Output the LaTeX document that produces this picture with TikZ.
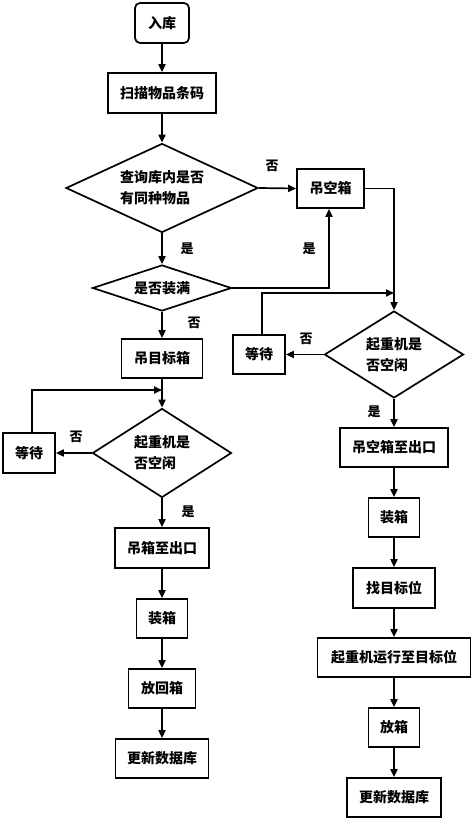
\documentclass[tikz,border=0pt]{standalone}
\usepackage{fontspec}
\newfontfamily\cjk{Noto Sans CJK SC}
\usetikzlibrary{shapes.geometric,arrows.meta}
\begin{document}
\begin{tikzpicture}[x=1pt,y=-1pt,
  txt/.style={font=\cjk\bfseries\fontsize{14}{21}\selectfont},
  box/.style={txt,draw,line width=1.7pt,inner sep=0pt,minimum height=39pt},
  dia/.style={txt,draw,diamond,line width=1.7pt,inner sep=0pt,align=left},
  lbl/.style={font=\cjk\bfseries\fontsize{13}{15}\selectfont,inner sep=0pt},
  ln/.style={line width=1.7pt},
  arr/.style={line width=1.7pt,-{Triangle[length=8pt,width=7pt]}}]
\useasboundingbox (0,0) rectangle (474,821);
% left column
\node[box,rounded corners=5pt,minimum width=54pt,minimum height=40pt] (start) at (162,23) {入库};
\node[box,minimum width=108pt,minimum height=40pt] (scan) at (162,93) {扫描物品条码};
\node[dia,minimum width=192pt,minimum height=89pt,aspect=2.16] (d1) at (162,188) {查询库内是否\\有同种物品};
\node[box,minimum width=67pt] (empty) at (330.5,188.5) {吊空箱};
\node[dia,minimum width=139pt,minimum height=46pt,aspect=3.02] (d2) at (162,288) {是否装满};
\node[box,minimum width=81pt] (target) at (162,358.5) {吊目标箱};
\node[dia,minimum width=139pt,minimum height=89pt,aspect=1.56] (dL) at (162,453) {起重机是\\否空闲};
\node[box,minimum width=52pt,minimum height=40pt] (waitL) at (29,453) {等待};
\node[box,minimum width=94pt,minimum height=40pt] (outL) at (162,548) {吊箱至出口};
\node[box,minimum width=51pt] (packL) at (162,618.5) {装箱};
\node[box,minimum width=67pt] (back) at (162,688.5) {放回箱};
\node[box,minimum width=93pt] (dbL) at (162,758.5) {更新数据库};
% right column
\node[dia,minimum width=139pt,minimum height=87pt,aspect=1.6] (dR) at (394,354.5) {起重机是\\否空闲};
\node[box,minimum width=52pt] (waitR) at (259,354.5) {等待};
\node[box,minimum width=108pt] (outR) at (394,447.5) {吊空箱至出口};
\node[box,minimum width=51pt] (packR) at (394,517.5) {装箱};
\node[box,minimum width=82pt,minimum height=40pt] (find) at (394,588) {找目标位};
\node[box,minimum width=153pt] (run) at (394,657.5) {起重机运行至目标位};
\node[box,minimum width=51pt] (put) at (394,727.5) {放箱};
\node[box,minimum width=94pt] (dbR) at (394,797.5) {更新数据库};
% labels
\node[lbl] (l1) at (272,166) {否};
\node[lbl] (l2) at (187,249) {是};
\node[lbl] (l3) at (309,249) {是};
\node[lbl] (l4) at (194,323) {否};
\node[lbl] (l5) at (306,339) {否};
\node[lbl] (l6) at (374,412) {是};
\node[lbl] (l7) at (76,437) {否};
\node[lbl] (l8) at (188,512) {是};
% joins
\coordinate (jL) at (162,390);
\coordinate (jR) at (394,293);
\coordinate (cE) at (394,188.5);
\coordinate (c2) at (329,288);
% connectors
\draw[arr] (start) -- (scan);
\draw[arr] (scan) -- (d1);
\draw[arr] (d1.east) -- (empty.west);
\draw[arr] (d1.south) -- (d2.north);
\draw[arr] (d2.east) -- (c2) -- (c2 |- empty.south);
\draw[arr] (empty.east) -- (cE) -- (dR.north);
\draw[arr] (d2.south) -- (target.north);
\draw[arr] (target.south) -- (dL.north);
\draw[arr] (dL.west) -- (waitL.east);
\draw[arr] ([xshift=3pt]waitL.north) |- (jL);
\draw[arr] (dL.south) -- (outL.north);
\draw[arr] (outL) -- (packL);
\draw[arr] (packL) -- (back);
\draw[arr] (back) -- (dbL);
\draw[arr] (dR.west) -- (waitR.east);
\draw[arr] ([xshift=3pt]waitR.north) |- (jR);
\draw[arr] (dR.south) -- (outR.north);
\draw[arr] (outR) -- (packR);
\draw[arr] (packR) -- (find);
\draw[arr] (find) -- (run);
\draw[arr] (run) -- (put);
\draw[arr] (put) -- (dbR);
\end{tikzpicture}
\end{document}
